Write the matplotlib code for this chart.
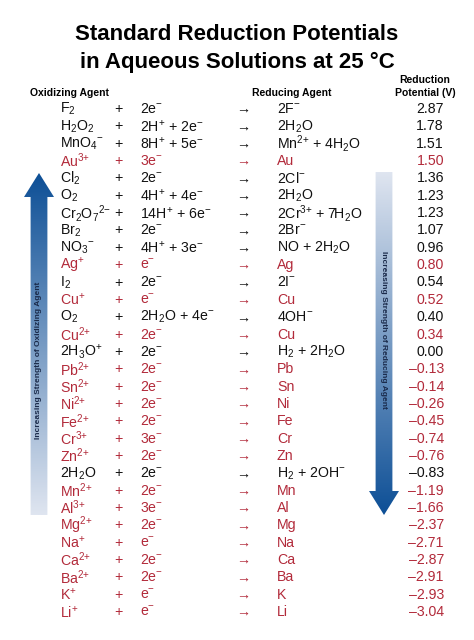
import numpy as np
import matplotlib
matplotlib.use("Agg")
import matplotlib.pyplot as plt
from matplotlib.patches import Polygon
from matplotlib.colors import LinearSegmentedColormap

plt.rcParams['font.family'] = ['Liberation Sans', 'DejaVu Sans']
plt.rcParams['mathtext.default'] = 'regular'

RED = "#b22a3a"
BLK = "#111111"

oxidizers = ["F$_2$", "H$_2$O$_2$", "MnO$_4$$^{-}$", "Au$^{3{+}}$", "Cl$_2$", "O$_2$",
             "Cr$_2$O$_7$$^{2{-}}$", "Br$_2$", "NO$_3$$^{-}$", "Ag$^{+}$", "I$_2$", "Cu$^{+}$",
             "O$_2$", "Cu$^{2{+}}$", "2H$_3$O$^{+}$", "Pb$^{2{+}}$", "Sn$^{2{+}}$", "Ni$^{2{+}}$",
             "Fe$^{2{+}}$", "Cr$^{3{+}}$", "Zn$^{2{+}}$", "2H$_2$O", "Mn$^{2{+}}$", "Al$^{3{+}}$",
             "Mg$^{2{+}}$", "Na$^{+}$", "Ca$^{2{+}}$", "Ba$^{2{+}}$", "K$^{+}$", "Li$^{+}$"]
electrons = ["2e$^{-}$", "2H$^{+}$ + 2e$^{-}$", "8H$^{+}$ + 5e$^{-}$", "3e$^{-}$", "2e$^{-}$",
             "4H$^{+}$ + 4e$^{-}$", "14H$^{+}$ + 6e$^{-}$", "2e$^{-}$", "4H$^{+}$ + 3e$^{-}$",
             "e$^{-}$", "2e$^{-}$", "e$^{-}$", "2H$_2$O + 4e$^{-}$", "2e$^{-}$", "2e$^{-}$",
             "2e$^{-}$", "2e$^{-}$", "2e$^{-}$", "2e$^{-}$", "3e$^{-}$", "2e$^{-}$", "2e$^{-}$",
             "2e$^{-}$", "3e$^{-}$", "2e$^{-}$", "e$^{-}$", "2e$^{-}$", "2e$^{-}$", "e$^{-}$", "e$^{-}$"]
reducers = ["2F$^{-}$", "2H$_2$O", "Mn$^{2{+}}$ + 4H$_2$O", "Au", "2Cl$^{-}$", "2H$_2$O",
            "2Cr$^{3{+}}$ + 7H$_2$O", "2Br$^{-}$", "NO + 2H$_2$O", "Ag", "2I$^{-}$", "Cu",
            "4OH$^{-}$", "Cu", "H$_2$ + 2H$_2$O", "Pb", "Sn", "Ni", "Fe", "Cr", "Zn",
            "H$_2$ + 2OH$^{-}$", "Mn", "Al", "Mg", "Na", "Ca", "Ba", "K", "Li"]
potentials = [2.87, 1.78, 1.51, 1.50, 1.36, 1.23, 1.23, 1.07, 0.96, 0.80, 0.54, 0.52,
              0.40, 0.34, 0.00, -0.13, -0.14, -0.26, -0.45, -0.74, -0.76, -0.83, -1.19,
              -1.66, -2.37, -2.71, -2.87, -2.91, -2.93, -3.04]
is_metal = [False, False, False, True, False, False, False, False, False, True, False, True,
            False, True, False, True, True, True, True, True, True, False, True, True,
            True, True, True, True, True, True]

fig = plt.figure(figsize=(4.74, 6.4), dpi=100)
ax = fig.add_axes([0, 0, 1, 1])
ax.set_xlim(0, 474)
ax.set_ylim(640, 0)
ax.axis("off")

ax.text(237, 34, "Standard Reduction Potentials", ha="center", va="center",
        fontsize=16, fontweight="bold")
ax.text(237, 62, "in Aqueous Solutions at 25 \u00b0C", ha="center", va="center",
        fontsize=16, fontweight="bold")
hdr = dict(fontsize=7.5, fontweight="bold", va="center", family=['Liberation Sans Narrow', 'Liberation Sans'])
ax.text(30, 93, "Oxidizing Agent", ha="left", **hdr)
ax.text(252, 93, "Reducing Agent", ha="left", **hdr)
ax.text(425, 80, "Reduction", ha="center", **hdr)
ax.text(425, 93, "Potential (V)", ha="center", **hdr)


def gradient_arrow(x0, x1, y_tip, y_end, up):
    w = x1 - x0
    sx0, sx1 = x0 + w * 0.22, x1 - w * 0.22
    head = 24
    d = 1 if up else -1
    yh = y_tip + d * head
    pts = [(x0, yh), ((x0 + x1) / 2, y_tip), (x1, yh), (sx1, yh), (sx1, y_end), (sx0, y_end), (sx0, yh)]
    poly = Polygon(pts, closed=True, facecolor="none", edgecolor="none")
    ax.add_patch(poly)
    cmap = LinearSegmentedColormap.from_list("bl", ["#0d4f96", "#dfe5f0"])
    grad = np.linspace(0, 1, 256).reshape(-1, 1)
    if not up:
        grad = grad[::-1]
    top, bot = min(y_tip, y_end), max(y_tip, y_end)
    im = ax.imshow(grad, cmap=cmap, extent=(x0, x1, bot, top), aspect="auto", zorder=1)
    im.set_clip_path(poly)


gradient_arrow(24, 54, 173, 515, True)
ax.text(39, 360, "Increasing Strength of Oxidizing Agent", rotation=90, ha="center", va="center",
        fontsize=6, fontweight="bold", color="#1a2a4a", zorder=2,
        family=['Liberation Sans Narrow', 'Liberation Sans'])
gradient_arrow(369, 399, 515, 172, False)
ax.text(384, 330, "Increasing Strength of Reducing Agent", rotation=270, ha="center", va="center",
        fontsize=6, fontweight="bold", color="#1a2a4a", zorder=2,
        family=['Liberation Sans Narrow', 'Liberation Sans'])

y0, dy = 109, 17.35
for i in range(len(oxidizers)):
    y = y0 + i * dy
    c = RED if is_metal[i] else BLK
    kw = dict(fontsize=10.2, color=c, va="center", zorder=3)
    ax.text(60, y, oxidizers[i], ha="left", **kw)
    ax.text(118, y, "+", ha="center", **kw)
    ax.text(140, y, electrons[i], ha="left", **kw)
    ax.text(243, y, "\u2192", ha="center", **kw)
    ax.text(277, y, reducers[i], ha="left", **kw)
    p = potentials[i]
    s = f"{p:.2f}" if p >= 0 else f"\u2013{abs(p):.2f}"
    ax.text(444, y, s, ha="right", **kw)

fig.savefig("out.png", dpi=100)
